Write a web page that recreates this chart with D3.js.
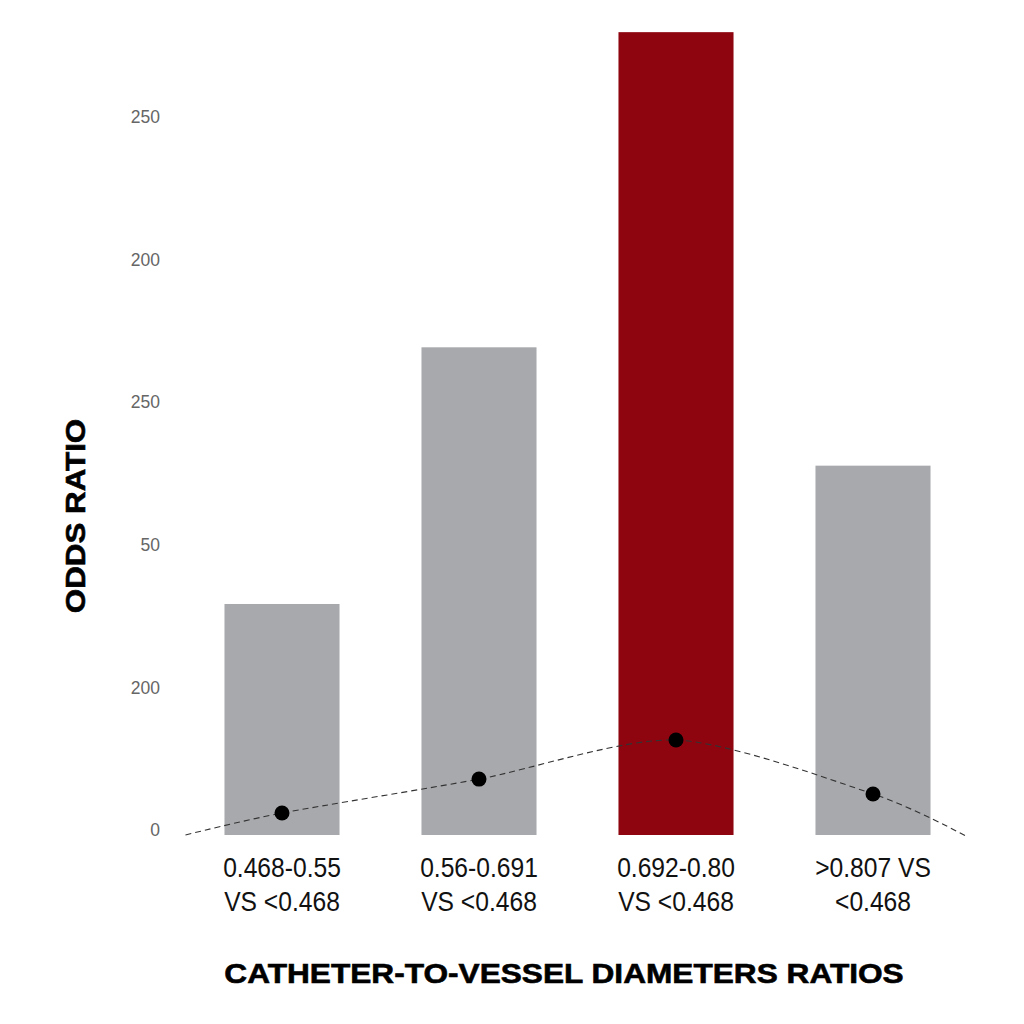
<!DOCTYPE html>
<html>
<head>
<meta charset="utf-8">
<script src="https://cdn.jsdelivr.net/npm/d3@7"></script>
<style>
  body { margin: 0; background: #fff; }
  .tick text { font-family: 'Liberation Sans', Arial, sans-serif; }
</style>
</head>
<body>
<svg id="chart" width="1024" height="1024"></svg>
<script>
// categories, two-line labels
const categories = ['0.468-0.55 VS <0.468', '0.56-0.691 VS <0.468', '0.692-0.80 VS <0.468', '>0.807 VS <0.468']
const labelLines = [['0.468-0.55', 'VS <0.468'], ['0.56-0.691', 'VS <0.468'], ['0.692-0.80', 'VS <0.468'], ['>0.807 VS', '<0.468']]
const barValues = [81, 171, 281.5, 129.5]
const pointValues = [7.7, 19.6, 33.3, 14.4]
// dashed trend line: [category index, value], runs a bit past the first and last bar
const trendValues = [[-0.49, 0], [0, 7.7], [1, 19.6], [2, 33.3], [3, 14.4], [3.47, -0.3]]
const tickValues = [0, 50, 100, 150, 200, 250]
const tickLabels = ['0', '200', '50', '250', '200', '250'] // as printed on the original
const highlight = 2

const svg = d3.select('#chart')

const x = d3.scaleBand().domain(categories).range([183.5, 971.5])
  .paddingInner(0.416).paddingOuter(0.208)
const y = d3.scaleLinear().domain([0, 250]).range([835, 122])
const xi = d3.scaleLinear().domain([0, 3]).range([x(categories[0]) + x.bandwidth() / 2, x(categories[3]) + x.bandwidth() / 2])

// y axis: labels only
const yAxis = svg.append('g').attr('transform', 'translate(160,-5)')
  .call(d3.axisLeft(y).tickValues(tickValues).tickFormat((d, i) => tickLabels[i]).tickSize(0).tickPadding(0))
yAxis.select('.domain').remove()
yAxis.selectAll('text').attr('fill', '#666').attr('font-size', 17.5)

svg.append('g').selectAll('rect').data(barValues).join('rect')
  .attr('x', (d, i) => x(categories[i]))
  .attr('width', x.bandwidth())
  .attr('y', d => y(d))
  .attr('height', d => y(0) - y(d))
  .attr('fill', (d, i) => i === highlight ? '#8e0510' : '#a8a9ac')

const line = d3.line().x(d => xi(d[0])).y(d => y(d[1])).curve(d3.curveCardinal.tension(0.2))
svg.append('path').datum(trendValues).attr('d', line)
  .attr('fill', 'none').attr('stroke', '#333').attr('stroke-width', 1.1)
  .attr('stroke-dasharray', '6,4')

svg.append('g').selectAll('circle').data(pointValues).join('circle')
  .attr('cx', (d, i) => xi(i))
  .attr('cy', d => y(d))
  .attr('r', 7.5)
  .attr('fill', '#000')

// category labels, squeezed to look condensed
labelLines.forEach((lines, i) => {
  const cx = x(categories[i]) + x.bandwidth() / 2
  const t = svg.append('text').attr('transform', `translate(${cx},877) scale(0.88,1)`)
    .attr('font-family', "'Liberation Sans', Arial, sans-serif")
    .attr('font-size', 28).attr('fill', '#111').attr('text-anchor', 'middle')
  lines.forEach((s, j) => t.append('tspan').attr('x', 0).attr('y', j * 34).text(s))
})

svg.append('text').attr('transform', 'translate(564,983) scale(1.13,1)').attr('text-anchor', 'middle')
  .attr('font-family', "'Liberation Sans', Arial, sans-serif").attr('font-weight', 'bold')
  .attr('font-size', 28).attr('fill', '#000').attr('stroke', '#000').attr('stroke-width', 0.6)
  .text('CATHETER-TO-VESSEL DIAMETERS RATIOS')

svg.append('text').attr('transform', 'translate(85,516) rotate(-90) scale(1.12,1)').attr('text-anchor', 'middle')
  .attr('font-family', "'Liberation Sans', Arial, sans-serif").attr('font-weight', 'bold')
  .attr('font-size', 28).attr('fill', '#000').attr('stroke', '#000').attr('stroke-width', 0.6)
  .text('ODDS RATIO')
</script>
</body>
</html>
